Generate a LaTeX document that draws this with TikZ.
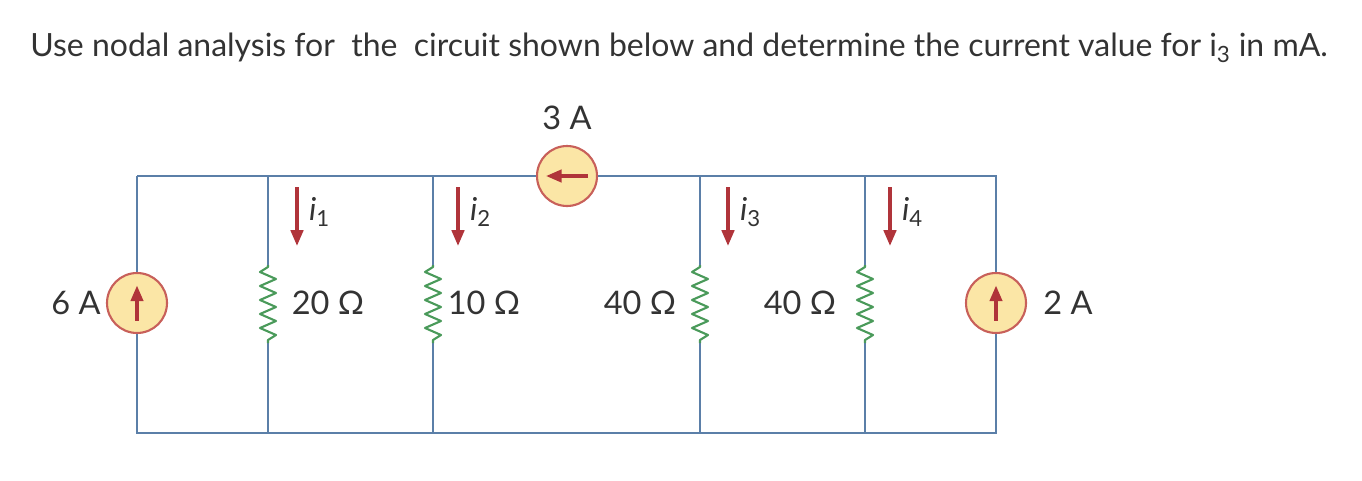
\documentclass[tikz,border=0pt]{standalone}
\usepackage{fontspec}
\setmainfont{Lato}
\usetikzlibrary{arrows.meta}
\definecolor{wire}{HTML}{5B7FA8}
\definecolor{res}{HTML}{4A9A5A}
\definecolor{arr}{HTML}{B0343A}
\definecolor{srcfill}{HTML}{FBE6A6}
\definecolor{srcline}{HTML}{C8605A}
\definecolor{txt}{HTML}{333333}
\begin{document}
\begin{tikzpicture}[x=0.02cm,y=-0.02cm,
  wirestyle/.style={wire,line width=1.2pt},
  srcbox/.style={circle,draw=srcline,fill=srcfill,line width=1.2pt,minimum size=1.2cm,inner sep=0pt},
  resstyle/.style={res,line width=1.2pt,line join=round},
  curarr/.style={arr,line width=2pt,-{Triangle[length=9pt,width=7pt]}},
  lbl/.style={text=txt,font=\fontsize{18.5}{22}\selectfont,inner sep=1pt},
  ilbl/.style={text=txt,font=\fontsize{18}{22}\selectfont\itshape,inner sep=1pt}]
\useasboundingbox (0,0) rectangle (1362,480);
\node[anchor=west,text=txt,font=\fontsize{18.2}{22}\selectfont,inner sep=0pt] (title) at (30,48) {Use nodal analysis for\ \ the\ \ circuit shown below and determine the current value for i\textsubscript{3} in mA.};
\foreach \n/\x in {a/137,b/268,c/433,d/700,e/865,f/996}{
  \coordinate (t\n) at (\x,176); \coordinate (b\n) at (\x,433);
  \coordinate (rt\n) at (\x,265); \coordinate (rb\n) at (\x,343);}
\node[srcbox] (s3) at (567,176) {};
\node[srcbox] (s6) at (137,303) {};
\node[srcbox] (s2) at (996,303) {};
\draw[wirestyle] (ta) -- (s3.west) (s3.east) -- (tf) -- (s2.north) (s2.south) -- (bf) -- (ba) -- (s6.south) (s6.north) -- (ta);
\foreach \n in {b,c,d,e}{
  \draw[wirestyle] (t\n) -- (rt\n) (rb\n) -- (b\n);
  \draw[resstyle] (rt\n) -- ++(0,2) -- ++(-8,5) -- ++(16,7) -- ++(-16,7) -- ++(16,7) -- ++(-16,7) -- ++(16,7) -- ++(-16,7) -- ++(16,7) -- ++(-16,7) -- ++(16,7) -- ++(-8,5) -- (rb\n);}
\draw[curarr] ([xshift=12pt]s3.center) -- ([xshift=-12pt]s3.center);
\draw[curarr] ([yshift=-10pt]s6.center) -- ([yshift=10pt]s6.center);
\draw[curarr] ([yshift=-10pt]s2.center) -- ([yshift=10pt]s2.center);
\foreach \x/\i in {297/1,458/2,728/3,890/4}{
  \coordinate (ia\i) at (\x,187); \coordinate (ib\i) at (\x,246);
  \draw[curarr] (ia\i) -- (ib\i);
  \node[ilbl,anchor=west] (il\i) at (\x+10,212) {i$_{\mathrm{\i}}$};}
\node[lbl] (l3) at (567,118) {3 A};
\node[lbl] (l6) at (76,303) {6 A};
\node[lbl] (l2) at (1068,303) {2 A};
\node[lbl] (r1) at (328,303) {20 Ω};
\node[lbl] (r2) at (484,303) {10 Ω};
\node[lbl] (r3) at (640,303) {40 Ω};
\node[lbl] (r4) at (800,303) {40 Ω};
\end{tikzpicture}
\end{document}
